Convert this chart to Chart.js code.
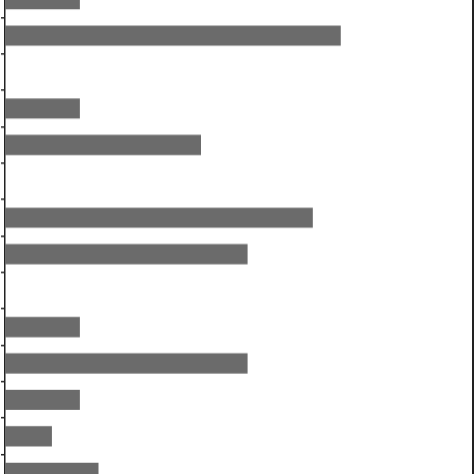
<!DOCTYPE html>
<html>
<head>
<meta charset="utf-8">
<script src="https://cdn.jsdelivr.net/npm/chart.js@4/dist/chart.umd.min.js"></script>
<style>
  html, body { margin: 0; padding: 0; background: #fff; overflow: hidden; width: 474px; height: 474px; }
  /* the reference is a crop: the plot runs past the top and bottom edge */
  #wrap { position: absolute; left: 0; top: -19.2px; width: 474px; height: 508.9px; }
</style>
</head>
<body>
<div id="wrap"><canvas id="barChart"></canvas></div>
<script>
// categories (names are cut off in the picture)
let categories = ['c1', 'c2', 'c3', 'c4', 'c5', 'c6', 'c7', 'c8', 'c9', 'c10', 'c11', 'c12', 'c13', 'c14'];

// bar lengths, read against an axis running 0..50
let values = [8, 36, null, 8, 21, null, 33, 26, null, 8, 26, 8, 5, 10];

let xMin = 0;
let xMax = 50.2;

let ctx = document.getElementById('barChart').getContext('2d');
let chart = new Chart(ctx, {
    type: 'bar',
    data: {
        labels: categories,
        datasets: [{
            data: values,
            backgroundColor: '#6b6b6b',
            borderWidth: 0,
            barThickness: 19.5
        }]
    },
    options: {
        indexAxis: 'y',
        responsive: true,
        maintainAspectRatio: false,
        animation: false,
        layout: { padding: 0 },
        plugins: {
            legend: { display: false },
            tooltip: { enabled: false }
        },
        scales: {
            x: {
                display: false,
                min: xMin,
                max: xMax
            },
            y: {
                position: 'left',
                offset: true,
                ticks: { display: false },
                grid: {
                    offset: true,
                    drawOnChartArea: false,
                    drawTicks: true,
                    tickLength: 4,
                    color: '#222',
                    lineWidth: 1.5
                },
                border: { display: true, color: '#222', width: 1.5 },
                afterFit: function(scale) { scale.width = 5; }
            },
            yRight: {
                type: 'category',
                position: 'right',
                offset: true,
                ticks: { display: false },
                grid: { display: false },
                border: { display: true, color: '#222', width: 2.5 },
                afterFit: function(scale) { scale.width = 1.25; }
            }
        }
    }
});
</script>
</body>
</html>
